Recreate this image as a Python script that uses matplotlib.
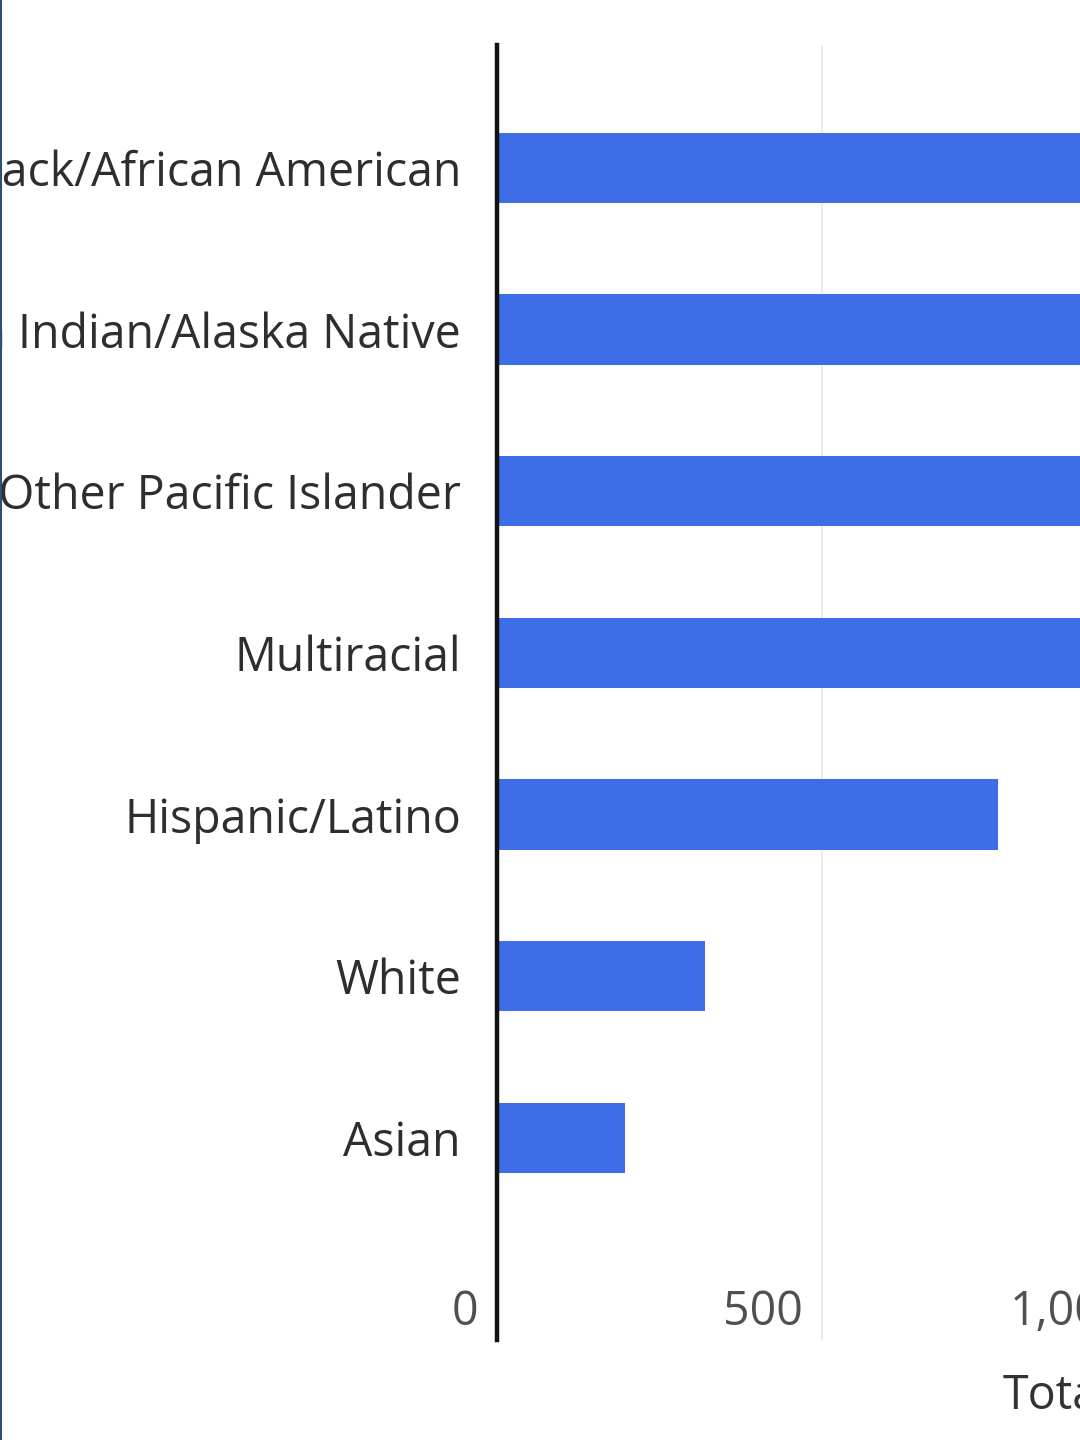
import matplotlib.pyplot as plt
from matplotlib.lines import Line2D

# data (top to bottom); first four bars run past the cropped edge
categories = ["Black/African American", "American Indian/Alaska Native",
              "Native Hawaiian/Other Pacific Islander", "Multiracial",
              "Hispanic/Latino", "White", "Asian"]
values = [1650, 1450, 1300, 1150, 771, 320, 197]
xticks = [0, 500, 1000]
xtick_labels = ["0", "500", "1,000"]
x_title = "Total"

plt.rcParams['font.family'] = ['Open Sans', 'DejaVu Sans']

fig = plt.figure(figsize=(10.8, 14.4), dpi=100)
W, H = 1080, 1440

# axes placed in pixels: left edge at the axis line, right edge beyond the crop
ax_left, ax_top, ax_bottom = 497, 45, 1340
ax_width = 650  # 1000 units -> 650 px
ax = fig.add_axes([ax_left / W, 1 - ax_bottom / H, ax_width / W, (ax_bottom - ax_top) / H])

ypos = list(range(len(categories)))
ax.barh(ypos, values, height=0.435, color='#3d6ee8', zorder=2)

ax.set_xlim(0, 1000)
ax.set_ylim(7.25, -0.76)

for side in ['top', 'right', 'bottom']:
    ax.spines[side].set_visible(False)
ax.spines['left'].set_linewidth(3.2)
ax.spines['left'].set_color('#111111')
ax.spines['left'].set_zorder(3)

ax.set_yticks(ypos)
ax.set_yticklabels(categories, fontsize=33.5, color='#2e2e2e', fontweight='medium')
ax.tick_params(axis='y', length=0, pad=26)

ax.set_xticks([])
for t in xticks[1:]:
    ax.axvline(t, color='#e8e8e8', linewidth=1.2, zorder=1)

for t, lab in zip(xticks, xtick_labels):
    ax.annotate(lab, xy=(t, 7.08), xytext=(-19, 0), textcoords='offset pixels',
                ha='right', va='center', fontsize=33.5, color='#505050')

fig.text(1003 / W, 1 - 1396 / H, x_title, ha='left', va='center', fontsize=33.5, color='#333333')

# thin border on the left edge of the screenshot
fig.add_artist(Line2D([0.0008, 0.0008], [0, 1], transform=fig.transFigure,
                      color='#2e5070', linewidth=1.5))

fig.savefig('out.png', dpi=100)
